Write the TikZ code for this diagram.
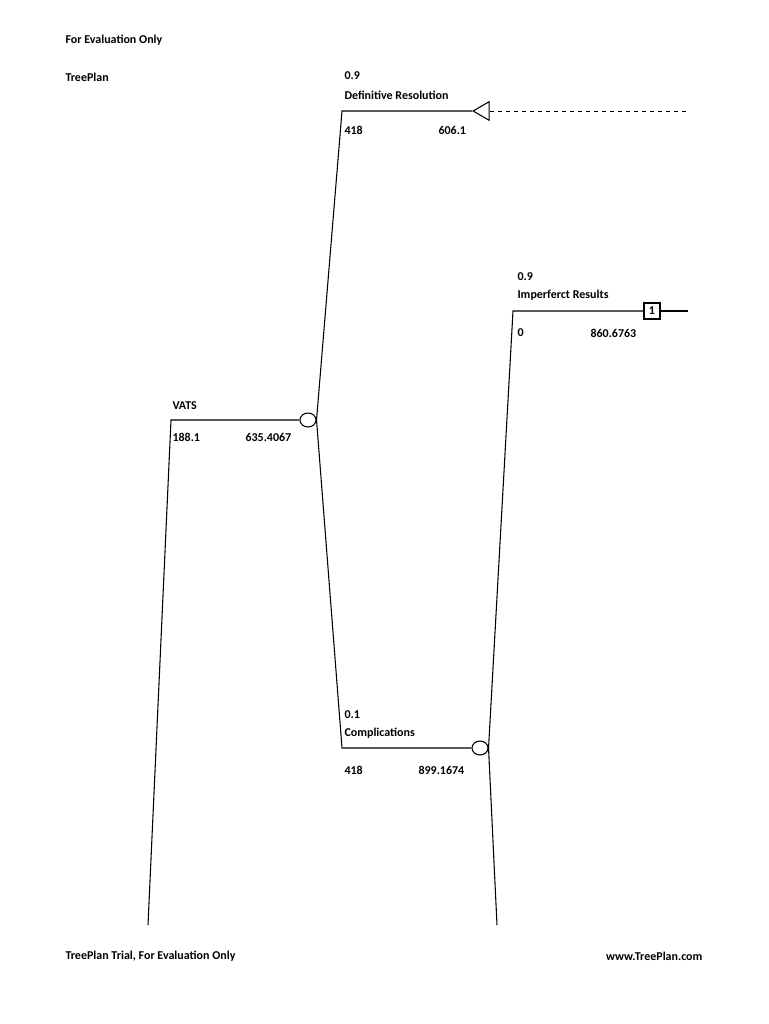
\documentclass[tikz,border=0pt]{standalone}
\usepackage{fontspec}
\setmainfont{Carlito}
\usetikzlibrary{shapes.geometric}
\begin{document}
\begin{tikzpicture}[x=0.75pt,y=-0.75pt,line width=0.8pt,
  lbl/.style={anchor=west,inner sep=0pt,font=\fontsize{9}{11}\selectfont\bfseries},
  chance/.style={draw,ellipse,minimum width=12pt,minimum height=10.5pt,inner sep=0pt},
  term/.style={draw,isosceles triangle,shape border rotate=180,isosceles triangle apex angle=60,minimum height=12pt,inner sep=0pt,anchor=apex},
  decis/.style={draw,minimum size=12pt,inner sep=0pt,font=\fontsize{9}{11}\selectfont\bfseries}]
\useasboundingbox (0,0) rectangle (768,1024);
\node[lbl] (eval) at (65,40) {For Evaluation Only};
\node[lbl] (tp) at (65,77) {TreePlan};
% root branch
\coordinate (r0) at (148,925);
\coordinate (r1) at (171,420);
\node[chance] (c1) at (308,420) {};
\draw (r0) -- (r1) -- (c1.west);
\node[lbl] at (172,406) {VATS};
\node[lbl] at (172,437) {188.1};
\node[lbl] at (245,437) {635.4067};
% definitive resolution
\coordinate (d1) at (342,111);
\node[term] (t1) at (472,111) {};
\coordinate (d2) at (688,111);
\draw (c1.east) -- (d1) -- (t1.apex);
\draw[dashed,line width=0.5pt] (t1.east) -- (d2);
\node[lbl] at (344,76) {0.9};
\node[lbl] at (344,95) {Definitive Resolution};
\node[lbl] at (344,130) {418};
\node[lbl] at (438,130) {606.1};
% complications
\coordinate (k1) at (342,748);
\node[chance] (c2) at (480,748) {};
\draw (c1.east) -- (k1) -- (c2.west);
\node[lbl] at (344,715) {0.1};
\node[lbl] at (344,733) {Complications};
\node[lbl] at (344,770) {418};
\node[lbl] at (418,770) {899.1674};
% imperfect results
\coordinate (i1) at (513,311);
\node[decis] (s1) at (652,311) {1};
\coordinate (i2) at (688,311);
\draw (c2.east) -- (i1) -- (s1.west);
\draw (s1.east) -- (i2);
\node[lbl] at (517,277) {0.9};
\node[lbl] at (517,295) {Imperferct Results};
\node[lbl] at (517,333) {0};
\node[lbl] at (590,333) {860.6763};
\coordinate (k2) at (497,925);
\draw (c2.east) -- (k2);
% footer
\node[lbl] (f1) at (65,956) {TreePlan Trial, For Evaluation Only};
\node[lbl,anchor=east] (f2) at (703,956) {www.TreePlan.com};
\end{tikzpicture}
\end{document}
